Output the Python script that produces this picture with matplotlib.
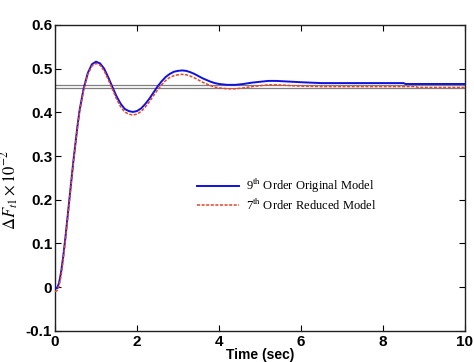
import matplotlib
matplotlib.use("Agg")
import matplotlib.pyplot as plt

# ── Données ────────────────────────────────────────────────────────────────────
t_orig = [0, 0.05, 0.1, 0.15, 0.2, 0.25, 0.3, 0.35, 0.4, 0.45, 0.5, 0.55, 0.6,
          0.7, 0.8, 0.9, 1.0, 1.1, 1.2, 1.3, 1.4, 1.5, 1.6, 1.7, 1.8, 1.9, 2.0,
          2.1, 2.2, 2.3, 2.4, 2.5, 2.6, 2.7, 2.8, 2.9, 3.0, 3.1, 3.2, 3.3, 3.4,
          3.5, 3.6, 3.7, 3.8, 3.9, 4.0, 4.2, 4.4, 4.6, 4.8, 5.0, 5.2, 5.4, 5.6,
          5.8, 6.0, 6.5, 7.0, 8.0, 8.5, 8.55, 10.0]
y_orig = [0.0, -0.003, 0.01, 0.035, 0.07, 0.11, 0.155, 0.20, 0.245, 0.29, 0.33,
          0.37, 0.405, 0.455, 0.49, 0.51, 0.516, 0.512, 0.50, 0.48, 0.458, 0.437,
          0.42, 0.408, 0.403, 0.401, 0.403, 0.409, 0.419, 0.431, 0.445, 0.459,
          0.471, 0.481, 0.488, 0.493, 0.495, 0.496, 0.495, 0.492, 0.488, 0.483,
          0.478, 0.474, 0.470, 0.467, 0.465, 0.463, 0.463, 0.465, 0.468, 0.470,
          0.472, 0.472, 0.471, 0.470, 0.469, 0.467, 0.467, 0.467, 0.467, 0.465,
          0.465]

t_red = [0, 0.05, 0.1, 0.15, 0.2, 0.25, 0.3, 0.35, 0.4, 0.45, 0.5, 0.55, 0.6,
         0.7, 0.8, 0.9, 1.0, 1.1, 1.2, 1.3, 1.4, 1.5, 1.6, 1.7, 1.8, 1.9, 2.0,
         2.1, 2.2, 2.3, 2.4, 2.5, 2.6, 2.7, 2.8, 2.9, 3.0, 3.1, 3.2, 3.3, 3.4,
         3.5, 3.6, 3.7, 3.8, 3.9, 4.0, 4.2, 4.4, 4.6, 4.8, 5.0, 5.2, 5.4, 5.6,
         5.8, 6.0, 6.5, 7.0, 8.0, 8.8, 8.85, 10.0]
y_red = [-0.01, -0.008, 0.003, 0.027, 0.062, 0.103, 0.148, 0.194, 0.24, 0.285,
         0.326, 0.366, 0.401, 0.452, 0.487, 0.506, 0.512, 0.508, 0.495, 0.475,
         0.453, 0.431, 0.413, 0.401, 0.396, 0.394, 0.396, 0.402, 0.412, 0.424,
         0.438, 0.451, 0.463, 0.473, 0.480, 0.484, 0.486, 0.487, 0.486, 0.483,
         0.479, 0.474, 0.469, 0.465, 0.461, 0.458, 0.456, 0.454, 0.454, 0.456,
         0.459, 0.461, 0.463, 0.463, 0.462, 0.461, 0.460, 0.459, 0.459, 0.459,
         0.459, 0.457, 0.457]

ref_levels = [0.463, 0.455]   # lignes grises horizontales

x_ticks = [0, 2, 4, 6, 8, 10]
y_ticks = [-0.1, 0, 0.1, 0.2, 0.3, 0.4, 0.5, 0.6]
y_tick_labels = ["-0.1", "0", "0.1", "0.2", "0.3", "0.4", "0.5", "0.6"]

plt.rcParams["mathtext.fontset"] = "stix"

# ── Figure ─────────────────────────────────────────────────────────────────────
fig = plt.figure(figsize=(4.74, 3.62), dpi=100)
ax = fig.add_axes([0.116, 0.086, 0.865, 0.845])

for lvl in ref_levels:
    ax.axhline(lvl, color="#7f7f7f", lw=0.9, zorder=1)

ax.plot(t_orig, y_orig, color="#1010e0", lw=1.4, zorder=3,
        label="9$^{\\rm th}$ Order Original Model")
ax.plot(t_red, y_red, color="#e8442a", lw=1.1, ls=(0, (2, 1)), zorder=4,
        label="7$^{\\rm th}$ Order Reduced Model")

ax.set_xlim(0, 10)
ax.set_ylim(-0.1, 0.6)
ax.set_xticks(x_ticks)
ax.set_yticks(y_ticks)
ax.set_yticklabels(y_tick_labels)
ax.tick_params(direction="in", top=True, right=True, length=4, pad=2,
               labelsize=11)
ax.tick_params(axis="x", pad=3)
for lab in ax.get_xticklabels() + ax.get_yticklabels():
    lab.set_fontweight("bold")
    lab.set_family("Liberation Sans")
for sp in ax.spines.values():
    sp.set_linewidth(1.0)
    sp.set_color("#202020")

ax.set_xlabel("Time (sec)", fontsize=10, fontweight="bold",
              family="Liberation Sans", labelpad=-1)
ax.set_ylabel(r"$\Delta F_{t1} \times 10^{-2}$", fontsize=12)
ax.yaxis.set_label_coords(-0.082, 0.46)

leg = ax.legend(loc="upper left", bbox_to_anchor=(0.32, 0.54), frameon=False,
                handlelength=3.3, handletextpad=0.6, labelspacing=0.2,
                prop={"family": "Liberation Serif", "size": 9})

fig.savefig("out.png", dpi=100)
